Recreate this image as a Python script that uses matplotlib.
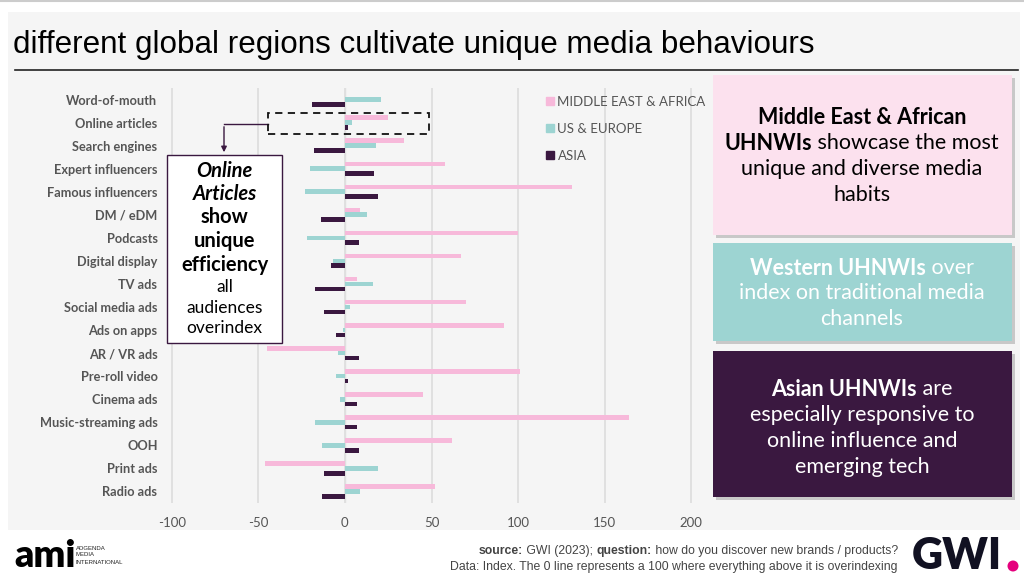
import matplotlib.pyplot as plt
import matplotlib.patches as mpatches
from matplotlib.lines import Line2D
import numpy as np

W, H = 1024, 577

# data (index minus 100)
channels = ['Word-of-mouth', 'Online articles', 'Search engines', 'Expert influencers',
            'Famous influencers', 'DM / eDM', 'Podcasts', 'Digital display', 'TV ads',
            'Social media ads', 'Ads on apps', 'AR / VR ads', 'Pre-roll video',
            'Cinema ads', 'Music-streaming ads', 'OOH', 'Print ads', 'Radio ads']
mea = [0, 25, 34, 58, 131, 9, 100, 67, 7, 70, 92, -45, 101, 45, 164, 62, -46, 52]
us_eu = [21, 4, 18, -20, -23, 13, -22, -7, 16, 3, -1, -4, -5, -3, -17, -13, 19, 9]
asia = [-19, 2, -18, 17, 19, -14, 8, -8, -17, -12, -5, 8, 2, 7, 7, 8, -12, -13]
series_names = ['MIDDLE EAST & AFRICA', 'US & EUROPE', 'ASIA']
xticks = [-100, -50, 0, 50, 100, 150, 200]

PINK = '#f7b9da'
TEAL = '#9dd4d2'
PURPLE = '#3a1840'
GRAY_TXT = '#555555'
BG = '#f5f5f5'

FONT = ['Lato', 'DejaVu Sans']
NARROW = ['Liberation Sans Narrow', 'Liberation Sans', 'DejaVu Sans']
plt.rcParams['font.family'] = FONT


def fx(x):
    return x / W


def fy(y):
    return 1 - y / H


fig = plt.figure(figsize=(W / 100, H / 100), dpi=100, facecolor='white')

# slide background
fig.patches.append(mpatches.Rectangle((fx(8), fy(530)), fx(1012), (530 - 12) / H,
                                      transform=fig.transFigure, facecolor=BG,
                                      edgecolor='none', zorder=-1))
fig.add_artist(Line2D([fx(0), fx(1024)], [fy(1), fy(1)], color='#cccccc', lw=1.5))

# title
fig.text(fx(13), fy(45), 'different global regions cultivate unique media behaviours',
         family=NARROW, fontsize=22.6, color='black', va='center', ha='left')
fig.add_artist(Line2D([fx(15), fx(1018)], [fy(70), fy(70)], color='#222222', lw=1.2))

# main chart
ax = fig.add_axes([fx(170), fy(503), fx(693 - 170), (503 - 88) / H])
ax.set_zorder(1)
ax.set_facecolor('none')
y = np.arange(len(channels))
bh = 0.2
ax.barh(y - 0.21, mea, height=bh, color=PINK, label=series_names[0], zorder=3)
ax.barh(y, us_eu, height=bh, color=TEAL, label=series_names[1], zorder=3)
ax.barh(y + 0.21, asia, height=bh, color=PURPLE, label=series_names[2], zorder=3)
ax.set_ylim(len(channels) - 0.5, -0.5)
ax.set_xlim(-101, 201)
ax.set_xticks(xticks)
ax.set_xticklabels([str(t) for t in xticks])
ax.set_yticks(y)
ax.set_yticklabels(channels)
ax.tick_params(axis='both', length=0, colors=GRAY_TXT)
ax.tick_params(axis='x', pad=10, labelsize=9.5)
ax.tick_params(axis='y', pad=9, labelsize=9.2)
for lab in ax.get_yticklabels():
    lab.set_fontweight('bold')
ax.grid(axis='x', color='#e0e0e0', lw=1.4, zorder=0)
ax.axvline(0, color='#dddddd', lw=1, zorder=1)
for s in ax.spines.values():
    s.set_visible(False)

handles = [mpatches.Patch(color=c) for c in (PINK, TEAL, PURPLE)]
leg = ax.legend(handles, series_names, loc='upper left',
                bbox_to_anchor=(fx(539), fy(89)), bbox_transform=fig.transFigure,
                frameon=False, fontsize=9.5, handlelength=0.6, handleheight=0.6,
                handletextpad=0.3, labelspacing=1.15, borderpad=0, labelcolor=GRAY_TXT)

# annotation: dashed box around online articles and callout
fig.patches.append(mpatches.Rectangle((fx(268), fy(134)), fx(429 - 268), (134 - 113) / H,
                                      transform=fig.transFigure, fill=False,
                                      edgecolor='#111111', lw=1.3, ls=(0, (4, 3)), zorder=5))
fig.add_artist(Line2D([fx(268), fx(224)], [fy(124), fy(124)], color=PURPLE, lw=1, zorder=5))
fig.add_artist(mpatches.FancyArrowPatch((fx(224), fy(124)), (fx(224), fy(155)),
                                        transform=fig.transFigure, arrowstyle='-|>',
                                        mutation_scale=8, color=PURPLE, lw=1, zorder=5))
fig.patches.append(mpatches.Rectangle((fx(167), fy(343)), fx(282 - 167), (343 - 155) / H,
                                      transform=fig.transFigure, facecolor='white',
                                      edgecolor=PURPLE, lw=1, zorder=4))
call_lines = [('Online', 171, 'bold', 'italic', 14.5),
              ('Articles', 194, 'bold', 'italic', 14.5),
              ('show', 217, 'bold', 'normal', 14.5),
              ('unique', 241, 'bold', 'normal', 14.5),
              ('efficiency', 265, 'bold', 'normal', 14.5),
              ('all', 287, 'normal', 'normal', 12.5),
              ('audiences', 308, 'normal', 'normal', 12.5),
              ('overindex', 328, 'normal', 'normal', 12.5)]
for txt, ypos, wt, st, sz in call_lines:
    fig.text(fx(224.5), fy(ypos), txt, ha='center', va='center', fontsize=sz,
             fontweight=wt, fontstyle=st, color='black', zorder=6)

# right-hand insight boxes
fig.canvas.draw()
renderer = fig.canvas.get_renderer()


def rich_line(xc, ypos, parts, color, size):
    """draw a centred line made of (text, weight) pieces"""
    arts = []
    for txt, wt in parts:
        t = fig.text(0, fy(ypos), txt, fontsize=size, fontweight=wt, color=color,
                     va='center', ha='left', zorder=7)
        arts.append(t)
    widths = [a.get_window_extent(renderer).width for a in arts]
    x = xc - sum(widths) / 2
    for a, w in zip(arts, widths):
        a.set_x(fx(x))
        x += w


boxes = [(75, 235, '#fce1ee'), (243, 341, TEAL), (351, 497, PURPLE)]
for top, bot, col in boxes:
    fig.patches.append(mpatches.Rectangle((fx(716), fy(bot + 3)), fx(1012 - 713), (bot - top) / H,
                                          transform=fig.transFigure, facecolor='#c8c8c8',
                                          edgecolor='none', zorder=2))
    fig.patches.append(mpatches.Rectangle((fx(713), fy(bot)), fx(1012 - 713), (bot - top) / H,
                                          transform=fig.transFigure, facecolor=col,
                                          edgecolor='none', zorder=3))

XC = 862
BS = 15.5
rich_line(XC, 117, [('Middle East & African', 'bold')], 'black', BS)
rich_line(XC, 143, [('UHNWIs', 'bold'), (' showcase the most', 'normal')], 'black', BS)
rich_line(XC, 169, [('unique and diverse media', 'normal')], 'black', BS)
rich_line(XC, 195, [('habits', 'normal')], 'black', BS)

rich_line(XC, 268, [('Western UHNWIs', 'bold'), (' over', 'normal')], 'white', BS)
rich_line(XC, 293, [('index on traditional media', 'normal')], 'white', BS)
rich_line(XC, 319, [('channels', 'normal')], 'white', BS)

rich_line(XC, 389, [('Asian UHNWIs', 'bold'), (' are', 'normal')], 'white', BS)
rich_line(XC, 415, [('especially responsive to', 'normal')], 'white', BS)
rich_line(XC, 441, [('online influence and', 'normal')], 'white', BS)
rich_line(XC, 467, [('emerging tech', 'normal')], 'white', BS)

# footer
fig.text(fx(14), fy(556), 'ami', fontsize=27, fontweight='heavy', color='black',
         va='center', ha='left')
fig.text(fx(76), fy(555), 'ADGENDA\nMEDIA\nINTERNATIONAL', fontsize=4.3, color='#222222',
         va='center', ha='left', linespacing=1.5, family=NARROW)


def right_line(xr, ypos, parts, size):
    arts = []
    for txt, wt in parts:
        arts.append(fig.text(0, fy(ypos), txt, fontsize=size, fontweight=wt,
                             color='#444444', va='center', ha='left', family=NARROW))
    widths = [a.get_window_extent(renderer).width for a in arts]
    x = xr - sum(widths)
    for a, w in zip(arts, widths):
        a.set_x(fx(x))
        x += w


right_line(898, 551, [('source:', 'bold'), (' GWI (2023); ', 'normal'),
                      ('question:', 'bold'), (' how do you discover new brands / products?', 'normal')], 8.8)
right_line(898, 567, [('Data: Index. The 0 line represents a 100 where everything above it is overindexing',
                       'normal')], 8.8)

fig.text(fx(912), fy(556), 'GWI', fontsize=31, fontweight='heavy', color='#111122',
         va='center', ha='left')
fig.patches.append(mpatches.Ellipse((fx(1013), fy(566)), 11 / W, 11 / H,
                                    transform=fig.transFigure,
                                    facecolor='#e5007d', edgecolor='none'))

fig.savefig('out.png', dpi=100, facecolor='white')
